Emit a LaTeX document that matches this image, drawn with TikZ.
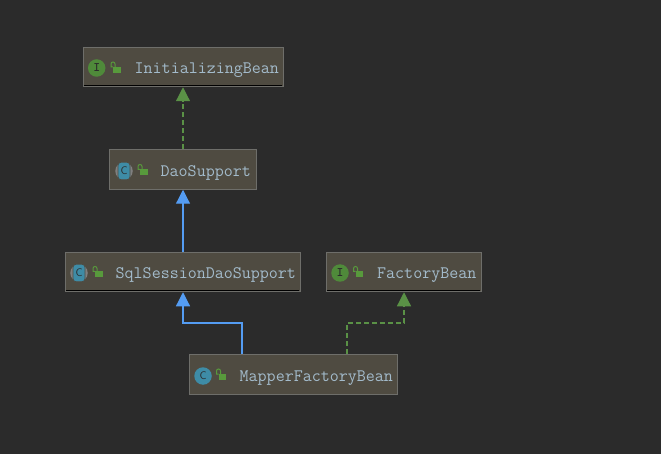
\documentclass[tikz,border=0pt]{standalone}
\usepackage{amsmath}
\usetikzlibrary{arrows.meta}
\definecolor{canvasgray}{HTML}{2B2B2B}
\definecolor{boxfill}{HTML}{4F4B41}
\definecolor{boxedge}{HTML}{6E6E6A}
\definecolor{labelblue}{HTML}{A3BBCB}
\definecolor{igreen}{HTML}{4F8A3A}
\definecolor{cblue}{HTML}{3E8CA6}
\definecolor{lockgreen}{HTML}{589A3C}
\definecolor{extendblue}{HTML}{549CF2}
\definecolor{implgreen}{HTML}{5A9146}
\tikzset{
  beanbox/.style={draw=boxedge,fill=boxfill,line width=1pt,minimum height=39.5pt,inner sep=0pt},
  beanlabel/.style={anchor=west,inner sep=0pt,text=labelblue,font=\fontsize{17.5}{18}\ttfamily},
  iicon/.style={circle,fill=igreen,minimum size=17.5pt,inner sep=0pt,text=canvasgray,font=\fontsize{13}{13}\bfseries\ttfamily},
  cicon/.style={circle,fill=cblue,minimum size=17.5pt,inner sep=0pt,text=canvasgray,font=\fontsize{11}{11}\sffamily},
  abstractring/.style={circle,fill=gray,minimum size=17.5pt,inner sep=0pt},
  abstracticon/.style={rectangle,rounded corners=3pt,fill=cblue,draw=boxfill,line width=.8pt,minimum width=12pt,minimum height=17.5pt,inner sep=0pt,text=canvasgray,font=\fontsize{11}{11}\sffamily},
  extendline/.style={draw=extendblue,line width=1.2pt,-{Triangle[length=14pt,width=14pt,fill=extendblue]}},
  implline/.style={draw=implgreen,line width=1.2pt,dash pattern=on 5pt off 3pt,-{Triangle[length=14pt,width=14pt,fill=implgreen,sep=0pt]}},
  lockicon/.pic={
    \fill [lockgreen] (-3.8,-3) rectangle (3.8,3);
    \draw [lockgreen,line width=1pt] (-4,3) -- (-6,3) -- (-6,6) arc (180:0:2) -- (-2,3);
  }
}
\begin{document}
\begin{tikzpicture}[x=1pt,y=1pt]
\fill [canvasgray] (0,0) rectangle (661,-454);
\useasboundingbox (0,0) rectangle (661,-454);
% boxes
\node [beanbox,minimum width=200pt] (initbean) at (183,-67) {};
\node [beanbox,minimum width=147pt] (daosupport) at (183,-169.5) {};
\node [beanbox,minimum width=235pt] (sqlsupport) at (183,-272) {};
\node [beanbox,minimum width=155pt] (factorybean) at (404,-272) {};
\node [beanbox,minimum width=208pt] (mapperbean) at (293.5,-374.5) {};
% black rule on the selected boxes
\draw [black,line width=1pt] (initbean.south west) ++(1,1.5) -- ++(198,0);
\draw [black,line width=1pt] (sqlsupport.south west) ++(1,1.5) -- ++(233,0);
\draw [black,line width=1pt] (factorybean.south west) ++(1,1.5) -- ++(153,0);
% icons
\node [abstractring] (daoring) at (124,-171) {};
\node [abstracticon] (daoicon) at (124,-171) {C};
\node [abstractring] (sqlring) at (79,-273) {};
\node [abstracticon] (sqlicon) at (79,-273) {C};
\node [iicon] (initicon) at (96.7,-68) {I};
\node [iicon] (factoryicon) at (340,-273) {I};
\node [cicon] (mappericon) at (203,-376) {C};
\draw (117,-70) pic {lockicon};
\draw (144,-172.5) pic {lockicon};
\draw (99,-274.5) pic {lockicon};
\draw (359.5,-274.5) pic {lockicon};
\draw (222.5,-377) pic {lockicon};
% labels
\node [beanlabel] (initlabel) at (134.5,-70) {InitializingBean};
\node [beanlabel] (daolabel) at (160.5,-173) {DaoSupport};
\node [beanlabel] (sqllabel) at (115.5,-275) {SqlSessionDaoSupport};
\node [beanlabel] (factorylabel) at (377,-275) {FactoryBean};
\node [beanlabel] (mapperlabel) at (239.5,-378) {MapperFactoryBean};
% connectors
\coordinate (mapperup) at (242,-354);
\coordinate (mapperimpl) at (347,-354);
\draw [implline] (daosupport.north) -- (initbean.south);
\draw [extendline] (sqlsupport.north) -- (daosupport.south);
\draw [extendline] (mapperup) -- ++(0,31) -| (sqlsupport.south);
\draw [implline] (mapperimpl) -- ++(0,31) -| (factorybean.south);
\end{tikzpicture}
\end{document}
